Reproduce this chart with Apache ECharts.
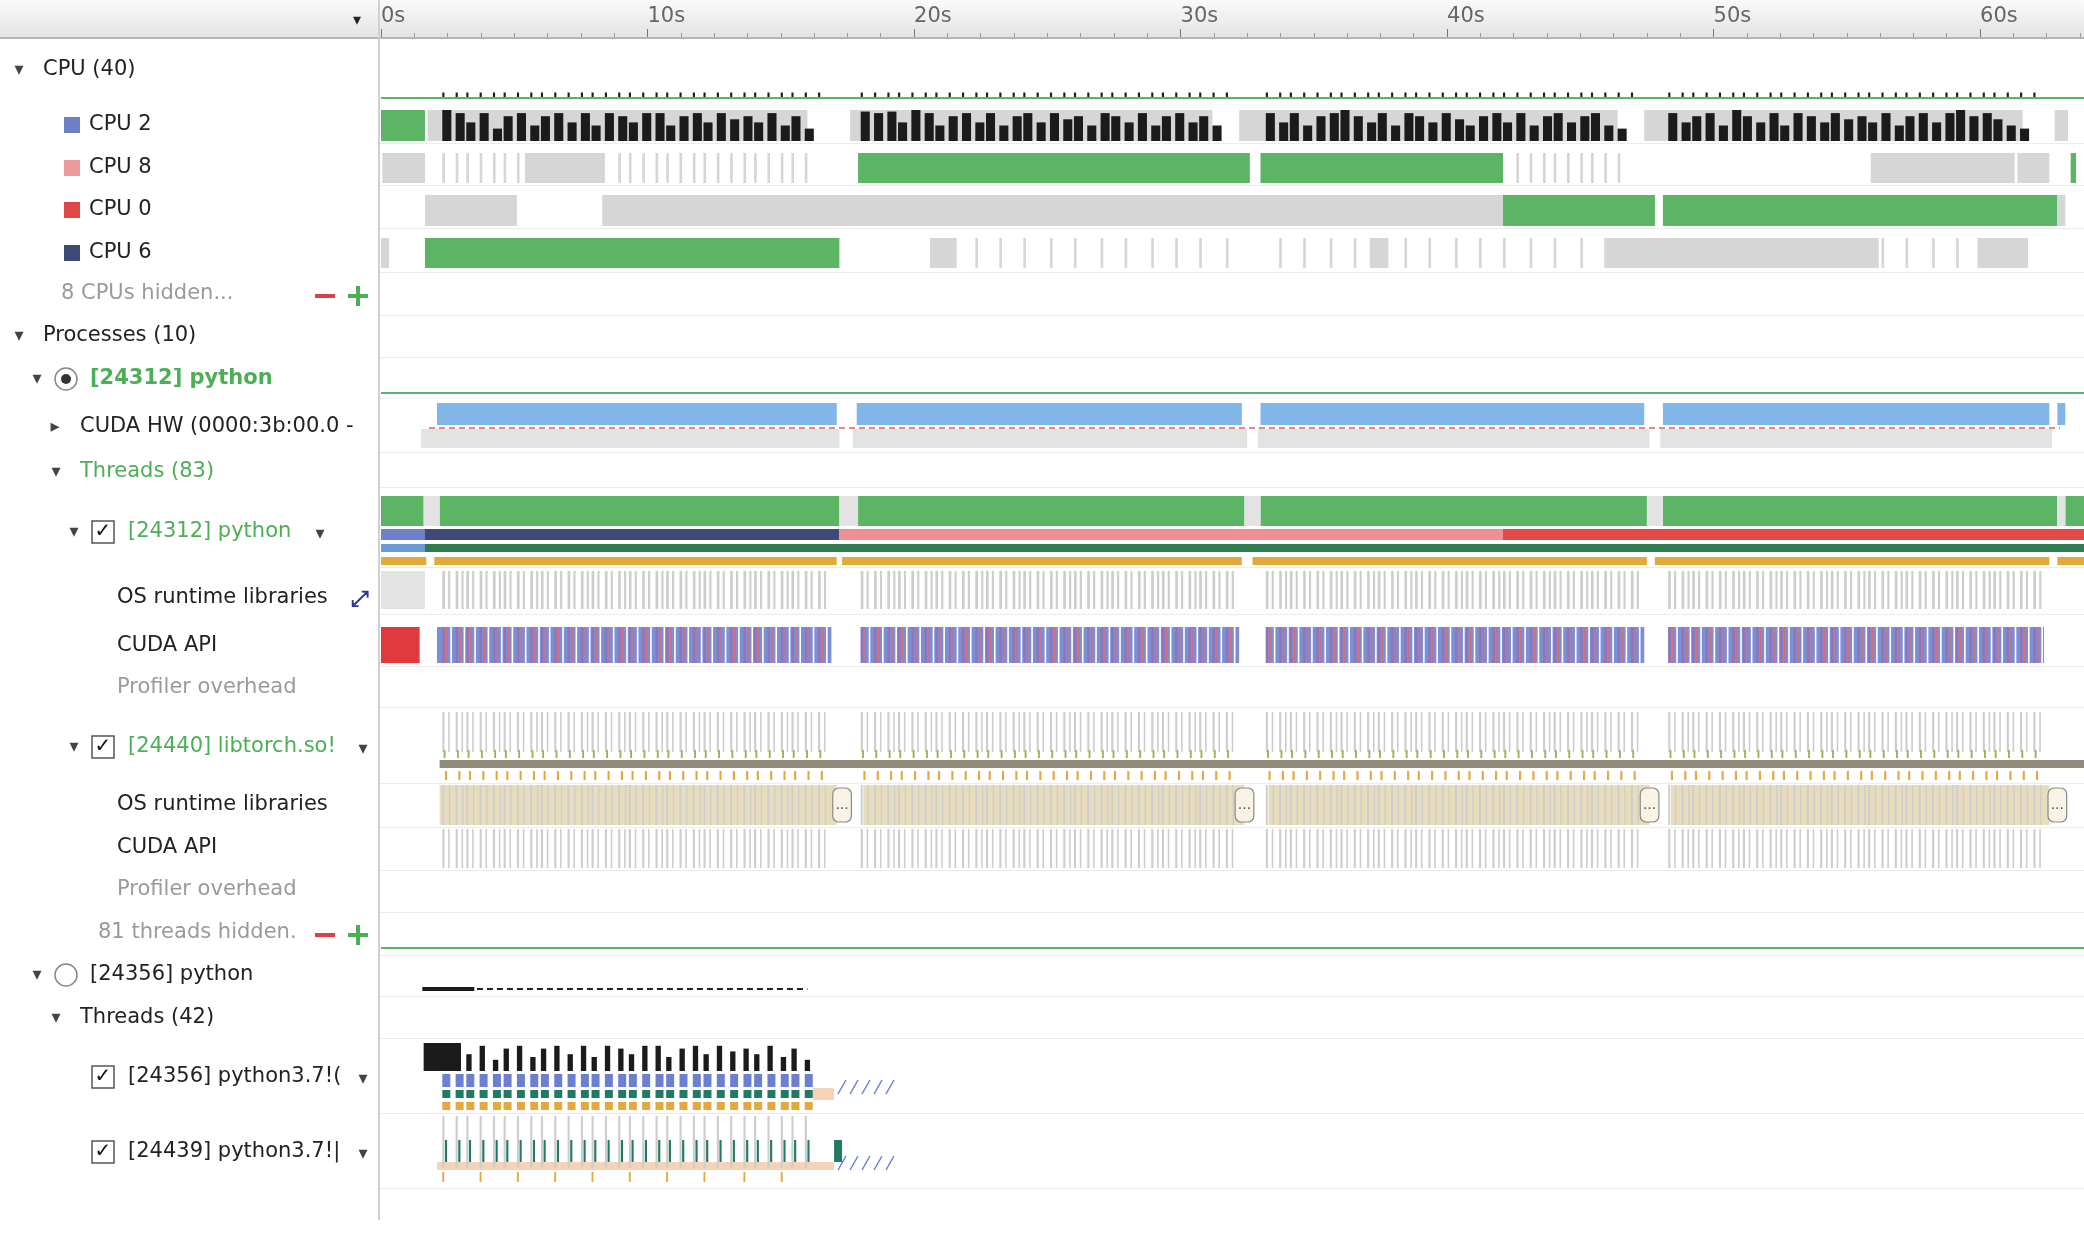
<!DOCTYPE html>
<html><head><meta charset="utf-8">
<script src="https://cdn.jsdelivr.net/npm/echarts@6/dist/echarts.min.js"></script>
<style>html,body{margin:0;padding:0;background:#fff}#c{width:2084px;height:1250px}</style>
</head><body><div id="c"></div>
<script>
// ---------- DATA ----------
const tickLabels = ['0s','10s','20s','30s','40s','50s','60s'];
const epochs = [[1.9,17.2],[17.8,32.5],[33.0,47.7],[48.1,62.7]];
const iters = [2.3,2.8,3.2,3.7,4.2,4.6,5.1,5.6,6.0,6.5,7.0,7.5,7.9,8.4,8.9,9.3,9.8,10.3,10.7,11.2,11.7,12.1,12.6,13.1,13.6,14.0,14.5,15.0,15.4,15.9,16.4,
 18.0,18.5,19.0,19.4,19.9,20.4,20.8,21.3,21.8,22.3,22.7,23.2,23.7,24.1,24.6,25.1,25.6,26.0,26.5,27.0,27.4,27.9,28.4,28.9,29.3,29.8,30.3,30.7,31.2,31.7,
 33.2,33.7,34.1,34.6,35.1,35.6,36.0,36.5,37.0,37.4,37.9,38.4,38.8,39.3,39.8,40.3,40.7,41.2,41.7,42.1,42.6,43.1,43.6,44.0,44.5,45.0,45.4,45.9,46.4,46.9,
 48.3,48.8,49.2,49.7,50.2,50.7,51.1,51.6,52.1,52.5,53.0,53.5,54.0,54.4,54.9,55.4,55.8,56.3,56.8,57.2,57.7,58.2,58.7,59.1,59.6,60.1,60.5,61.0,61.5,62.0];
const cpu2H = [1,.9,.6,.9,.4,.8,.9,.5,.8,.9,.6,.9,.5,.9,.8,.6,.9,.9,.5,.8,.9,.6,.9,.7,.8,.6,.9,.5,.8,.4,.3,
 .95,.9,.95,.6,1,.9,.5,.8,.9,.6,.9,.5,.8,.9,.6,.9,.7,.8,.5,.9,.8,.6,.9,.5,.8,.9,.6,.8,.5,
 1,.9,.6,.9,.5,.8,.9,1,.8,.6,.9,.5,.9,.8,.6,.9,.7,.5,.8,.9,.6,.9,.5,.8,.9,.6,.8,.9,.5,.4,
 1,.9,.6,.8,.9,.5,1,.8,.6,.9,.5,.9,.8,.6,.9,.7,.8,.6,.9,.5,.8,.9,.6,.9,1,.8,.9,.7,.5,.4];
const cpu2Spans = [[1.75,16.0],[17.6,31.2],[32.2,46.4],[47.4,61.6],[62.8,63.3]];
const cpu8Ticks = [[2.0,5.3],[8.6,16.0],[42.2,46.4]];
const cpu6Ticks = [[21.8,42.0],[42.0,46.0],[56.3,59.5]];
const p3Spans = [[1.6,16.0]];
const p4Spans = [[2.0,16.0]];
// blocks: [trackName, t0, t1, colorName]
const blocks = [
 ['cpu2',0,1.65,'green'],
 ['cpu8',0.05,1.65,'gray'],['cpu8',5.4,8.4,'gray'],['cpu8',17.9,32.6,'green'],['cpu8',33.0,42.1,'green'],['cpu8',55.9,61.3,'gray'],['cpu8',61.4,62.6,'gray'],['cpu8',63.4,63.6,'green'],
 ['cpu0',1.65,5.1,'gray'],['cpu0',8.3,42.1,'gray'],['cpu0',42.1,47.8,'green'],['cpu0',48.1,62.9,'green'],['cpu0',62.9,63.2,'gray'],
 ['cpu6',0,0.3,'gray'],['cpu6',1.65,17.2,'green'],['cpu6',20.6,21.6,'gray'],['cpu6',37.1,37.8,'gray'],['cpu6',46.0,56.2,'gray'],['cpu6',59.9,61.8,'gray'],
 ['hwBlue',2.1,17.1,'blue'],['hwBlue',17.85,32.3,'blue'],['hwBlue',33.0,47.4,'blue'],['hwBlue',48.1,62.6,'blue'],['hwBlue',62.9,63.2,'blue'],
 ['hwGray',1.5,17.2,'lgray'],['hwGray',17.7,32.5,'lgray'],['hwGray',32.9,47.6,'lgray'],['hwGray',48.0,62.7,'lgray'],
 ['thrGreen',0,1.6,'green'],['thrGreen',2.2,17.2,'green'],['thrGreen',17.9,32.4,'green'],['thrGreen',33.0,47.5,'green'],['thrGreen',48.1,62.9,'green'],['thrGreen',63.2,63.9,'green'],
 ['thrGreen',1.6,2.2,'lgray'],['thrGreen',17.2,17.9,'lgray'],['thrGreen',32.4,33.0,'lgray'],['thrGreen',47.5,48.1,'lgray'],['thrGreen',62.9,63.2,'lgray'],
 ['thrState',0,1.65,'slate'],['thrState',1.65,17.2,'navy'],['thrState',17.2,42.1,'pink'],['thrState',42.1,63.9,'red'],
 ['thrText',0,1.65,'sky'],['thrText',1.65,63.9,'dgreen'],
 ['thrGold',0,1.7,'gold'],['thrGold',2.0,17.1,'gold'],['thrGold',17.3,32.3,'gold'],['thrGold',32.7,47.5,'gold'],['thrGold',47.8,62.6,'gold'],['thrGold',62.9,63.9,'gold'],
 ['osrt',0,1.65,'lgray'],
 ['cuda',0,1.45,'cred'],
 ['ltZig',2.2,63.9,'zig'],
 ['p2dash',1.55,3.5,'black'],
 ['p3black',1.6,3.0,'black'],
 ['p4teal',17.0,17.3,'teal']
];
const dashed = [['p2dash',3.6,16.0],['hwDash',1.8,63.0]];
const boxes = [17.3,32.4,47.6,62.9];

// ---------- STYLE / LAYOUT ----------
const COL = {green:'#5cb565',gray:'#d6d6d6',lgray:'#e3e3e3',black:'#1b1b1b',blue:'#82b6e9',navy:'#3d4a78',pink:'#ee9090',red:'#e24a4a',
 slate:'#6f7fc8',sky:'#6a9bd6',dgreen:'#2f7c50',gold:'#e2aa3c',cred:'#e0393e',zig:'#8f8a7a',teal:'#237a63',tick:'#cdcdcd',beige:'#e7dcbc',
 cblue:'#7d8fd3',cviolet:'#8f75b8',cpink:'#d96b78',olive:'#9cb24a',peach:'#f5d3b8',pblue:'#6d7fd0'};
const TR = {cpuTicks:[88,97],cpuLine:[97,99],cpu2:[110,141],cpu8:[153,183],cpu0:[195,226],cpu6:[238,268],procLine:[392,394],
 hwBlue:[403,425],hwDash:[427,429],hwGray:[429,448],thrGreen:[496,526],thrState:[529,540],thrText:[544,552],thrGold:[557,565],
 osrt:[571,609],cuda:[627,663],ltGray:[712,752],ltGreen:[750,758],ltZig:[760,768],ltGold:[771,780],ltOs:[785,825],ltCuda:[829,868],
 hidLine:[947,949],p2dash:[987,991],p3black:[1043,1071],p3blue:[1074,1087],p3green:[1090,1098],p3peach:[1088,1100],p3gold:[1102,1110],
 p4gray:[1116,1168],p4teal:[1140,1162],p4peach:[1162,1170],p4gold:[1172,1182]};
const inSpans = (t,sp)=>sp.some(s=>t>=s[0]&&t<=s[1]);
const D = []; // [t0,t1,track,color,frac]
const add=(tr,a,b,c,f)=>D.push([a,b,tr,c,f||0]);
add('cpuLine',0,63.9,'green'); add('procLine',0,63.9,'green'); add('hidLine',0,63.9,'green');
add('p3peach',16.2,17.0,'peach'); add('p4peach',2.1,17.0,'peach');
cpu2Spans.forEach(s=>add('cpu2',s[0],s[1],'gray'));
blocks.forEach(b=>add(b[0],b[1],b[2],b[3]));
epochs.forEach(e=>{add('cuda',e[0]+0.2,e[1]-0.3,'cblue'); add('ltOs',e[0]+0.3,e[1]-0.1,'beige');});
iters.forEach((t,i)=>{
  if(inSpans(t,cpu2Spans)) add('cpu2',t,t+0.34,'black',cpu2H[i]);
  add('cpuTicks',t,t+0.08,'black',0.5);
  if(inSpans(t,cpu8Ticks)) add('cpu8',t,t+0.1,'gray');
  if(inSpans(t,cpu6Ticks)&&i%2===0) add('cpu6',t,t+0.1,'gray');
  add('osrt',t,t+0.1,'tick'); add('osrt',t+0.22,t+0.3,'tick');
  add('cuda',t,t+0.09,'cviolet'); add('cuda',t+0.14,t+0.2,'cpink'); add('cuda',t+0.3,t+0.36,'white');
  if(t>2.2){
    add('ltGray',t,t+0.08,'tick'); add('ltGray',t+0.22,t+0.28,'tick');
    add('ltGreen',t+0.05,t+0.12,'olive'); add('ltGold',t+0.1,t+0.18,'gold');
    add('ltOs',t,t+0.07,'tick'); add('ltOs',t+0.25,t+0.3,'tick');
    add('ltCuda',t,t+0.08,'tick'); add('ltCuda',t+0.22,t+0.28,'tick');
  }
  if(inSpans(t,p3Spans)){ add('p3black',t,t+0.2,'black',cpu2H[i]); add('p3blue',t,t+0.3,'pblue'); add('p3green',t,t+0.3,'teal'); add('p3gold',t,t+0.3,'gold');}
  if(inSpans(t,p4Spans)){ add('p4gray',t,t+0.08,'tick'); add('p4teal',t+0.1,t+0.18,'teal'); if(i%3===0) add('p4gold',t,t+0.07,'gold');}
});
dashed.forEach(d=>D.push([d[1],d[2],d[0],d[0]==='p2dash'?'dashK':'dashR',0]));
boxes.forEach(t=>D.push([t-0.35,t+0.35,'ltOs','box',0]));

function renderItem(params, api){
  const d = D[params.dataIndex];
  const tr = TR[d[2]];
  const p0 = api.coord([d[0], tr[1]]), p1 = api.coord([d[1], tr[0]]);
  let yTop = p1[1], yBot = p0[1];
  if(d[4]) yTop = yBot - (yBot-yTop)*d[4];
  const w = Math.max(p1[0]-p0[0], 1.2);
  if(d[3]==='box') return {type:'group',children:[
    {type:'rect',shape:{x:p0[0],y:yTop+3,width:w,height:yBot-yTop-6,r:6},style:{fill:'#f8f3e4',stroke:'#8a8a8a',lineWidth:1.2}},
    {type:'text',style:{text:'...',x:p0[0]+w/2,y:(yTop+yBot)/2,align:'center',verticalAlign:'middle',fill:'#555',font:'14px DejaVu Sans'}}]};
  if(d[3]==='dashK'||d[3]==='dashR') return {type:'line',shape:{x1:p0[0],y1:(yTop+yBot)/2,x2:p1[0],y2:(yTop+yBot)/2},
    style:{stroke:d[3]==='dashK'?'#222':'#e06060',lineWidth:d[3]==='dashK'?2:1.5,lineDash:[6,4]}};
  return {type:'rect',shape:{x:p0[0],y:yTop,width:w,height:yBot-yTop},style:{fill:d[3]==='white'?'#fff':COL[d[3]]}};
}

// left panel graphics
const F='DejaVu Sans';
const G=[];
const txt=(x,y,s,o)=>G.push({type:'text',x,y,style:{text:s,font:(o&&o.bold?'bold ':'')+'21px '+F,fill:(o&&o.fill)||'#222',verticalAlign:'middle'}});
const tri=(x,y,down)=>G.push({type:'text',x,y,style:{text:down?'▾':'▸',font:'18px '+F,fill:'#444',verticalAlign:'middle',align:'center'}});
const sq=(y,c)=>G.push({type:'rect',shape:{x:64,y:y-8,width:16,height:16},style:{fill:c}});
const chk=(x,y)=>{G.push({type:'rect',shape:{x:x,y:y-11,width:22,height:22},style:{fill:'#fff',stroke:'#555',lineWidth:1.5}});
  G.push({type:'text',x:x+11,y:y,style:{text:'✓',font:'bold 20px '+F,fill:'#111',align:'center',verticalAlign:'middle'}});};
const radio=(x,y,on)=>{G.push({type:'circle',shape:{cx:x,cy:y,r:11},style:{fill:'#fff',stroke:'#888',lineWidth:1.5}});
  if(on) G.push({type:'circle',shape:{cx:x,cy:y,r:5},style:{fill:'#333'}});};
const pm=(x,y)=>{G.push({type:'rect',shape:{x:x,y:y-2,width:20,height:4},style:{fill:'#d9404a'}});
  G.push({type:'rect',shape:{x:x+33,y:y-2,width:20,height:4},style:{fill:'#4caf50'}});G.push({type:'rect',shape:{x:x+41,y:y-10,width:4,height:20},style:{fill:'#4caf50'}});};
// header
G.push({type:'rect',shape:{x:0,y:0,width:2084,height:37},style:{fill:new echarts.graphic.LinearGradient(0,0,0,1,[{offset:0,color:'#fafafa'},{offset:1,color:'#e4e4e4'}])},z:-1});
G.push({type:'rect',shape:{x:0,y:37,width:2084,height:2},style:{fill:'#b5b5b5'}});
G.push({type:'text',x:357,y:21,style:{text:'▾',font:'16px '+F,fill:'#222',align:'center',verticalAlign:'middle'}});
G.push({type:'rect',shape:{x:378,y:0,width:2,height:1220},style:{fill:'#d0d0d0'}});
[143,185,228,272,315,357,398,452,487,567,614,666,707,783,827,870,912,955,996,1038,1113,1188].forEach(y=>G.push({type:'rect',shape:{x:380,y:y,width:1704,height:1},style:{fill:'#ececec'}}));
tri(19,70,1); txt(43,70,'CPU (40)');
sq(125,'#6b7fc9'); txt(89,125,'CPU 2');
sq(168,'#ef9a9a'); txt(89,168,'CPU 8');
sq(210,'#e04848'); txt(89,210,'CPU 0');
sq(253,'#3d4a78'); txt(89,253,'CPU 6');
txt(61,294,'8 CPUs hidden...',{fill:'#9a9a9a'}); pm(315,296);
tri(19,336,1); txt(43,336,'Processes (10)');
tri(37,379,1); radio(66,379,1); txt(90,379,'[24312] python',{bold:1,fill:'#4cae55'});
tri(55,427,0); txt(80,427,'CUDA HW (0000:3b:00.0 -');
tri(56,472,1); txt(80,472,'Threads (83)',{fill:'#4cae55'});
tri(74,532,1); chk(92,532); txt(128,532,'[24312] python',{fill:'#4cae55'}); tri(320,534,1);
txt(117,598,'OS runtime libraries'); G.push({type:'text',x:360,y:600,style:{text:'⤢',font:'bold 22px '+F,fill:'#2b3a9a',align:'center',verticalAlign:'middle'}});
txt(117,646,'CUDA API');
txt(117,688,'Profiler overhead',{fill:'#9a9a9a'});
tri(74,747,1); chk(92,747); txt(128,747,'[24440] libtorch.so!',{fill:'#4cae55'}); tri(363,749,1);
txt(117,805,'OS runtime libraries');
txt(117,848,'CUDA API');
txt(117,890,'Profiler overhead',{fill:'#9a9a9a'});
txt(98,933,'81 threads hidden.',{fill:'#9a9a9a'}); pm(315,935);
tri(37,975,1); radio(66,975,0); txt(90,975,'[24356] python');
tri(56,1018,1); txt(80,1018,'Threads (42)');
chk(92,1077); txt(128,1077,'[24356] python3.7!('); tri(363,1079,1);
chk(92,1152); txt(128,1152,'[24439] python3.7!|'); tri(363,1154,1);
G.push({type:'rect',shape:{x:0,y:1222,width:380,height:28},style:{fill:'#fff'},z:10});
G.push({type:'rect',shape:{x:380,y:1220,width:1704,height:30},style:{fill:'#fff'},z:10});
[[838,1094],[838,1170]].forEach(p=>{for(let k=0;k<5;k++)G.push({type:'line',shape:{x1:p[0]+k*12,y1:p[1],x2:p[0]+k*12+8,y2:p[1]-14},style:{stroke:'#6a7fd0',lineWidth:1.5}});});

const chart = echarts.init(document.getElementById('c'),null,{renderer:'canvas'});
chart.setOption({
  animation:false,
  grid:[{left:381,right:0,top:0,height:37},{left:381,right:0,top:37,bottom:0}],
  xAxis:[
    {gridIndex:0,type:'value',min:0,max:63.9,interval:10,position:'bottom',axisLine:{show:false},
      axisTick:{inside:true,length:8,lineStyle:{color:'#777'}},minorTick:{show:true,splitNumber:8,length:4,lineStyle:{color:'#999'}},
      splitLine:{show:false},
      axisLabel:{inside:true,margin:10,align:'left',color:'#666',fontFamily:F,fontSize:21,showMaxLabel:false,
        formatter:v=>(Math.abs(v%10)<1e-6?tickLabels[Math.round(v/10)]:'')}},
    {gridIndex:1,type:'value',min:0,max:63.9,show:false}
  ],
  yAxis:[{gridIndex:0,show:false,min:0,max:1},{gridIndex:1,type:'value',min:37,max:1250,inverse:true,show:false}],
  graphic:G,
  series:[{type:'custom',xAxisIndex:1,yAxisIndex:1,clip:true,renderItem,data:D.map((d,i)=>[d[0],d[1],i]),encode:{x:[0,1],y:2}}]
});
</script></body></html>
